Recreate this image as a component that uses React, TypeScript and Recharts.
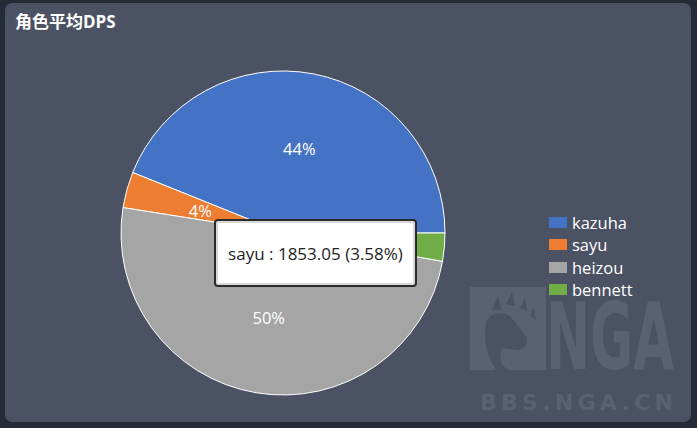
import { PieChart, Pie, Cell, Tooltip, Legend } from 'recharts'

const names = ['kazuha', 'sayu', 'heizou', 'bennett']
const dps = [22723, 1853.05, 25725, 1449]
const colors = ['#4472C4', '#ED7D31', '#A5A5A5', '#70AD47']

const data = names.map((name, i) => ({ name, value: dps[i] }))
const total = dps.reduce((a, b) => a + b, 0)

const RAD = Math.PI / 180

const renderLabel = (props: any) => {
  const { cx, cy, midAngle, outerRadius, percent } = props
  const r = outerRadius * 0.53
  const x = cx + r * Math.cos(-midAngle * RAD)
  const y = cy + r * Math.sin(-midAngle * RAD)
  return (
    <text x={x} y={y} fill='#fff' fontSize={16.5} textAnchor='middle' dominantBaseline='central'>
      {Math.round(percent * 100)}%
    </text>
  )
}

const TipBox = (props: any) => {
  const { active, payload } = props
  if (!active || !payload || !payload.length) return null
  const p = payload[0]
  const pct = ((p.value / total) * 100).toFixed(2)
  return (
    <div
      style={{
        width: 199,
        height: 64,
        background: '#fff',
        border: '2px solid #2b2b2b',
        borderRadius: 4,
        boxShadow: 'inset 0 0 0 2px #d8d8d8',
        display: 'flex',
        alignItems: 'center',
        justifyContent: 'center',
        fontSize: 17,
        color: '#222',
        whiteSpace: 'nowrap',
      }}
    >
      {p.name} : {p.value.toFixed(2)} ({pct}%)
    </div>
  )
}

const LegendBox = () => (
  <div>
    {names.map((n, i) => (
      <div key={n} style={{ display: 'flex', alignItems: 'center', height: 22.5 }}>
        <span style={{ display: 'inline-block', width: 18, height: 11, background: colors[i], marginRight: 5 }} />
        <span style={{ color: '#fff', fontSize: 16.5 }}>{n}</span>
      </div>
    ))}
  </div>
)

const Watermark = () => (
  <svg width={697} height={428} style={{ position: 'absolute', left: 0, top: 0 }}>
    <g fill='#5a6172'>
      <rect x={470} y={287} width={76} height={83} />
      <text x={546} y={369} fontSize={92} fontWeight={900} textLength={128} lengthAdjust='spacingAndGlyphs'
        fontFamily='"DejaVu Sans", sans-serif'>
        NGA
      </text>
      <text x={480} y={410} fontSize={22} fontWeight={600} textLength={193} lengthAdjust='spacing'
        fontFamily='"DejaVu Sans", sans-serif'>
        BBS.NGA.CN
      </text>
    </g>
    <g fill='#4b5263'>
      <path d='M486 322 q8 -14 24 -6 l16 20 q4 10 -6 14 l-18 -2 q-6 18 8 22 l-14 0 q-14 -20 -10 -48 z' />
      <path d='M492 310 l6 -14 l4 14 z M506 304 l6 -12 l3 14 z M520 308 l5 -10 l2 13 z M530 316 l4 -8 l2 12 z' />
    </g>
  </svg>
)

export default function App() {
  return (
    <div
      style={{
        position: 'absolute',
        left: 0,
        top: 0,
        width: 697,
        height: 428,
        background: '#262b38',
        fontFamily: '"Open Sans", "Noto Sans CJK SC", sans-serif',
        overflow: 'hidden',
      }}
    >
      <div
        style={{
          position: 'absolute',
          left: 5,
          top: 3,
          width: 686,
          height: 419,
          background: '#4b5263',
          borderRadius: 7,
        }}
      />
      <Watermark />
      <div
        style={{
          position: 'absolute',
          left: 15,
          top: 8,
          color: '#fff',
          fontWeight: 'bold',
          fontSize: 17,
        }}
      >
        角色平均DPS
      </div>
      <div style={{ position: 'absolute', left: 0, top: 0 }}>
        <PieChart width={697} height={428} margin={{ top: 0, right: 0, bottom: 0, left: 0 }}>
          <Pie
            data={data}
            dataKey='value'
            nameKey='name'
            cx={283}
            cy={233}
            outerRadius={162}
            startAngle={0}
            endAngle={360}
            stroke='#fff'
            strokeWidth={1}
            label={renderLabel}
            labelLine={false}
            isAnimationActive={false}
          >
            {data.map((d, i) => (
              <Cell key={d.name} fill={colors[i]} />
            ))}
          </Pie>
          <Legend
            layout='vertical'
            content={<LegendBox />}
            wrapperStyle={{ left: 549, top: 211, width: 120 }}
          />
          <Tooltip
            content={<TipBox />}
            defaultIndex={1}
            active
            position={{ x: 214, y: 219 }}
            isAnimationActive={false}
            wrapperStyle={{ outline: 'none' }}
          />
        </PieChart>
      </div>
    </div>
  )
}
